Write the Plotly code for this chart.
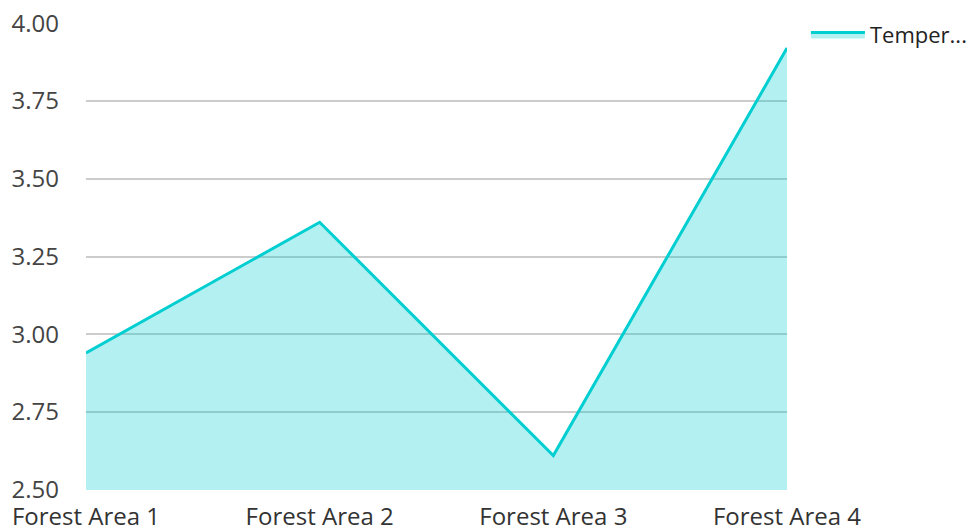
import plotly.graph_objects as go

categories = ["Forest Area 1", "Forest Area 2", "Forest Area 3", "Forest Area 4"]
temperature = [2.94, 3.36, 2.61, 3.92]
series_name = "Temper..."
y_ticks = [2.50, 2.75, 3.00, 3.25, 3.50, 3.75, 4.00]
y_tick_labels = ["2.50", "2.75", "3.00", "3.25", "3.50", "3.75", "4.00"]

fig = go.Figure()
fig.add_trace(go.Scatter(
    x=categories, y=temperature, name=series_name, mode="lines",
    line=dict(color="#00CED1", width=3),
    fill="tozeroy", fillcolor="rgba(0,206,209,0.3)",
))

font = "Open Sans, Noto Sans, sans-serif"
fig.update_layout(
    width=977, height=531,
    margin=dict(l=78, r=198, t=15, b=49, autoexpand=False),
    paper_bgcolor="white", plot_bgcolor="white",
    font=dict(family=font, size=24, color="#444444"),
    showlegend=True,
    legend=dict(x=1.027, y=1.02, xanchor="left", yanchor="top", itemwidth=54,
                font=dict(size=22, color="#222222"), bgcolor="rgba(0,0,0,0)"),
    xaxis=dict(type="category", range=[0, 3], showgrid=False, zeroline=False,
               showline=False, ticks="", ticklabelstandoff=10,
               tickfont=dict(size=24, color="#333333"), automargin=False),
    yaxis=dict(range=[2.4995, 4.0005], tickvals=y_ticks, ticktext=y_tick_labels,
               showgrid=True, gridcolor="#CCCCCC", gridwidth=1.5, zeroline=False,
               showline=False, ticks="", ticklabelstandoff=26,
               ticklabeloverflow="allow",
               tickfont=dict(size=24, color="#444444"), automargin=False),
)

fig.write_html("out.html")
